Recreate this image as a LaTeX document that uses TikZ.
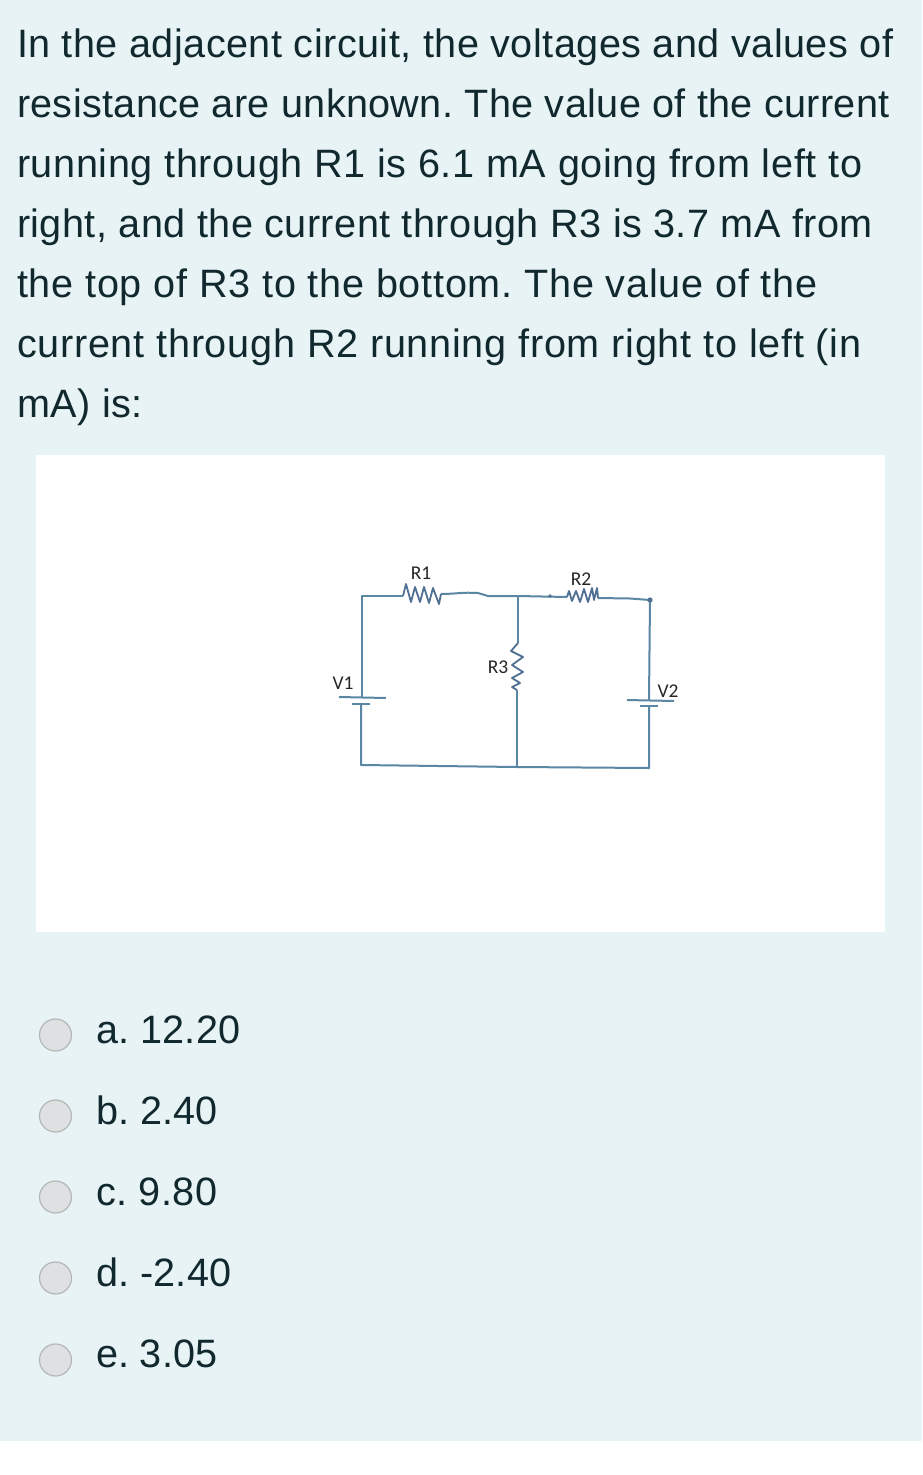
\documentclass[tikz,border=0pt]{standalone}
\usepackage{fontspec}
\setmainfont{Liberation Sans}
\newfontfamily\labelfont{Carlito}
\frenchspacing
\newcommand{\lsp}[1]{\addfontfeature{LetterSpace=#1}}
\definecolor{pagebg}{HTML}{E7F3F5}
\definecolor{inktext}{HTML}{10282E}
\definecolor{wire}{HTML}{5A87A3}
\definecolor{wirezig}{HTML}{4F7092}
\definecolor{radiofill}{HTML}{DFE0E1}
\definecolor{radioedge}{HTML}{B4B7B8}
\tikzset{
  x=1pt,y=-1pt,
  bodytext/.style={anchor=base west,inner sep=0pt,outer sep=0pt,text=inktext,font=\fontsize{39.6}{44}\selectfont},
  answertext/.style={anchor=base west,inner sep=0pt,outer sep=0pt,text=inktext,font=\fontsize{39.6}{44}\selectfont},
  radio/.style={circle,draw=radioedge,fill=radiofill,line width=1.2pt,minimum size=32pt,inner sep=0pt},
  cktlabel/.style={inner sep=0pt,outer sep=0pt,text=black!85,font=\labelfont\fontsize{19.5}{22}\selectfont},
  cktwire/.style={draw=wire,line width=2pt,line join=round},
  cktzig/.style={draw=wirezig,line width=1.8pt,line join=round},
}
\begin{document}
\begin{tikzpicture}
\useasboundingbox (0,0) rectangle (922,1475);
\fill[white] (0,0) rectangle (922,1475);
\fill[pagebg] (0,0) rectangle (922,1441);
\fill[white] (36,455) rectangle (885,932);

\node[bodytext] (l1) at (17,57.5) {\lsp{1.2}In the adjacent circuit, the voltages and values of};
\node[bodytext] (l2) at (17,117.5) {\lsp{0.9}resistance are unknown. The value of the current};
\node[bodytext] (l3) at (17,177.5) {\lsp{1.65}running through R1 is 6.1 mA going from left to};
\node[bodytext] (l4) at (17,237.5) {\lsp{1.15}right, and the current through R3 is 3.7 mA from};
\node[bodytext] (l5) at (17,297.5) {\lsp{1.9}the top of R3 to the bottom. The value of the};
\node[bodytext] (l6) at (17,357.5) {\lsp{1.9}current through R2 running from right to left (in};
\node[bodytext] (l7) at (17,417.5) {\lsp{1.3}mA) is:};

\coordinate (tl) at (362,596);
\coordinate (tm) at (518,596);
\coordinate (tr) at (650,600);
\coordinate (bl) at (361,765);
\coordinate (bm) at (517,767);
\coordinate (br) at (649,768);
\coordinate (v1a) at (362,697.5);
\coordinate (v1b) at (361,704);
\coordinate (v2a) at (649,700.5);
\coordinate (v2b) at (649,706);

% wires
\draw[cktwire] (v1a) -- (tl) -- (403,596);
\draw[cktwire] (441,594) .. controls (455,594) and (462,592) .. (478,593) -- (488,596) -- (tm);
\draw[cktwire] (tm) -- (518,643);
\draw[cktwire] (517,690) -- (517,715) -- (bm);
\draw[cktwire] (tm) -- (567,597);
\draw[cktwire] (598,598) -- (630,598.5) -- (tr) -- (v2a);
\draw[cktwire] (v1b) -- (bl) -- (bm) -- (br) -- (v2b);
\fill[wirezig] (tr) circle (2.6);
\fill[wirezig] (550,596) circle (1.8);

% R1
\draw[cktzig] (403,596) -- (406,584) -- (411,602) -- (415,587) -- (420,602) -- (424,587) -- (429,603) -- (433,588) -- (439,604) -- (441,594);
% R2
\draw[cktzig] (567,597) -- (569,591) -- (572,601) -- (576,591) -- (580,602) -- (584,589) -- (588,602) -- (592,588) -- (594,600) -- (597,588) -- (598,598);
% R3
\draw[cktzig] (518,643) -- (511,651) -- (523,657) -- (512,665) -- (523,672) -- (512,678) -- (520,683) -- (512,687) -- (517,690);

% batteries
\draw[cktwire] (339,697) -- (386,698);
\draw[cktwire] (352,704) -- (370,704);
\draw[cktwire] (627,700) -- (674,701);
\draw[cktwire] (640,706) -- (658,706);

% labels
\node[cktlabel] (r1) at (421,573) {R1};
\node[cktlabel] (r2) at (581,579) {R2};
\node[cktlabel] (r3) at (498,667) {R3};
\node[cktlabel] (v1) at (343,683) {V1};
\node[cktlabel] (v2) at (668,691) {V2};

% answers
\node[radio] (ra) at (55.5,1035) {};
\node[radio] (rb) at (55.5,1116) {};
\node[radio] (rc) at (55.5,1197) {};
\node[radio] (rd) at (55.5,1278) {};
\node[radio] (re) at (55.5,1360) {};
\node[answertext] (aa) at (96,1043.5) {\lsp{0.6}a. 12.20};
\node[answertext] (ab) at (96,1124.5) {\lsp{0.4}b. 2.40};
\node[answertext] (ac) at (96,1205.5) {\lsp{1.2}c. 9.80};
\node[answertext] (ad) at (96,1286) {\lsp{0.4}d. -2.40};
\node[answertext] (ae) at (96,1367) {e. 3.05};
\end{tikzpicture}
\end{document}
